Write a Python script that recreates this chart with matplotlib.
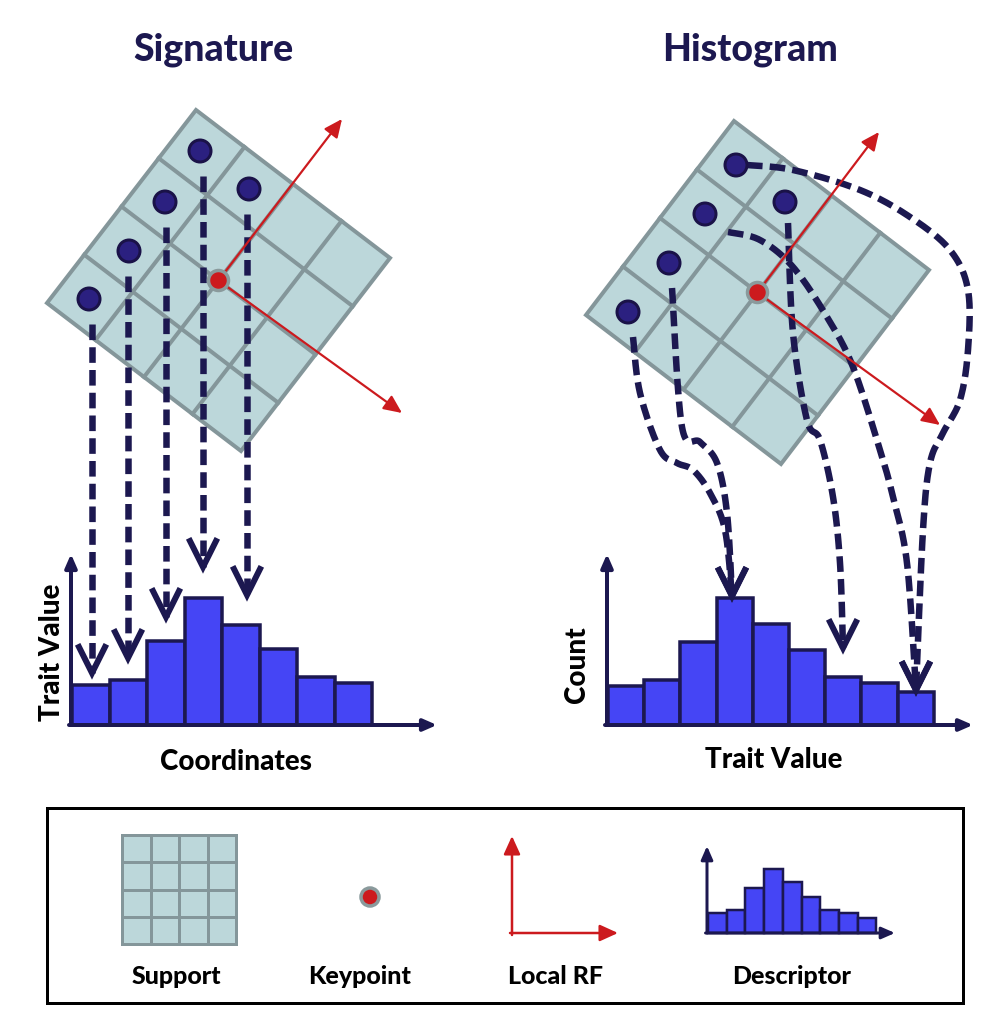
import numpy as np
import matplotlib.pyplot as plt
from matplotlib.patches import Polygon, Rectangle, Circle

# histogram values (top y of each bar in pixel coords, baseline 725)
left_tops = [685, 680, 641, 598, 625, 649, 677, 683]
right_tops = [686, 680, 642, 598, 624, 650, 677, 683, 692]
legend_tops = [913, 910, 888, 869, 882, 897, 910, 913, 918]

# support grids: top corner, edge vectors
left_grid = ((196, 110), (194, 148), (-149, 193))
right_grid = ((734, 121), (195, 149), (-148, 194))
left_dots = [(200, 151), (249, 189), (165, 202), (129, 251), (89, 299)]
right_dots = [(736, 165), (785, 202), (705, 214), (669, 263), (628, 312)]

NAVY = '#1c1850'
DOT = '#2b2080'
RED = '#cc1a1e'
FILL = '#bcd7da'
EDGE = '#84969a'
BAR = '#4545f5'
PX = 0.72  # points per pixel

fig = plt.figure(figsize=(10.05, 10.28), dpi=100)
ax = fig.add_axes([0, 0, 1, 1])
ax.set_xlim(0, 1005)
ax.set_ylim(1028, 0)
ax.axis('off')
plt.rcParams['font.family'] = ['Lato', 'DejaVu Sans']


def grid(g):
    (tx, ty), (ux, uy), (vx, vy) = g
    P = lambda a, b: (tx + a * ux + b * vx, ty + a * uy + b * vy)
    ax.add_patch(Polygon([P(0, 0), P(1, 0), P(1, 1), P(0, 1)], closed=True,
                         fc=FILL, ec=EDGE, lw=4 * PX, zorder=1))
    for k in range(1, 4):
        a = k / 4
        ax.plot(*zip(P(a, 0), P(a, 1)), color=EDGE, lw=4 * PX, zorder=1)
        ax.plot(*zip(P(0, a), P(1, a)), color=EDGE, lw=4 * PX, zorder=1)
    return P(0.5, 0.5)


def catmull(pts, n=20):
    pts = np.array(pts, float)
    pts = np.vstack([pts[0], pts, pts[-1]])
    out = []
    for i in range(1, len(pts) - 2):
        p0, p1, p2, p3 = pts[i - 1], pts[i], pts[i + 1], pts[i + 2]
        for t in np.linspace(0, 1, n, endpoint=False):
            out.append(0.5 * ((2 * p1) + (-p0 + p2) * t + (2 * p0 - 5 * p1 + 4 * p2 - p3) * t ** 2
                              + (-p0 + 3 * p1 - 3 * p2 + p3) * t ** 3))
    out.append(pts[-2])
    return np.array(out)


def dashed(pts):
    c = catmull(pts)
    ax.plot(c[:, 0], c[:, 1], color=NAVY, lw=6.5 * PX, ls=(0, (2.4, 1.1)),
            solid_capstyle='butt', zorder=4)
    tx, ty = pts[-1]
    ax.plot([tx - 13, tx, tx + 13], [ty - 26, ty, ty - 26], color=NAVY,
            lw=6 * PX, solid_joinstyle='miter', zorder=5)


def dot(x, y):
    ax.add_patch(Circle((x, y), 11, fc=DOT, ec='#1a1248', lw=3 * PX, zorder=6))


def keypoint(x, y, r=10):
    ax.add_patch(Circle((x, y), r, fc=RED, ec='#8a9a9c', lw=3.5 * PX, zorder=7))


def red_arrow(x0, y0, x1, y1, lw=2.2):
    ax.annotate('', xy=(x1, y1), xytext=(x0, y0),
                arrowprops=dict(arrowstyle='-|>,head_length=1.1,head_width=0.5',
                                color=RED, lw=lw * PX, shrinkA=0, shrinkB=0), zorder=6)


def histogram(x0, width, tops, base, ax_x, ax_top, ax_right, lw=4, bar_lw=3.5):
    for i, t in enumerate(tops):
        ax.add_patch(Rectangle((x0 + i * width, t), width, base - t, fc=BAR, ec=NAVY,
                               lw=bar_lw * PX, zorder=3))
    ax.annotate('', xy=(ax_x, ax_top), xytext=(ax_x, base),
                arrowprops=dict(arrowstyle='-|>,head_length=0.8,head_width=0.35',
                                color=NAVY, lw=lw * PX, shrinkA=0, shrinkB=0), zorder=4)
    ax.annotate('', xy=(ax_right, base), xytext=(ax_x - lw / 2, base),
                arrowprops=dict(arrowstyle='-|>,head_length=0.8,head_width=0.35',
                                color=NAVY, lw=lw * PX, shrinkA=0, shrinkB=0), zorder=4)


# ---- left: signature
kx, ky = grid(left_grid)
red_arrow(kx, ky, 342, 119)
red_arrow(kx, ky, 402, 413)
keypoint(kx, ky)
for d in left_dots:
    dot(*d)
tips = [(203, 567), (247, 595), (166, 617), (128, 658), (92, 673)]
for (dx, dy), (tx, ty) in zip(left_dots, tips):
    dashed([(tx, dy + 25), (tx, ty)])
histogram(72, 37.5, left_tops, 725, 71, 554, 437)

# ---- right: histogram
kx, ky = grid(right_grid)
red_arrow(kx, ky, 879, 132)
red_arrow(kx, ky, 940, 425)
keypoint(kx, ky)
for d in right_dots:
    dot(*d)
curves = [
    [(633, 337), (640, 393), (660, 450), (677, 463), (693, 470), (710, 493), (725, 530), (732, 596)],
    [(672, 288), (682, 427), (700, 442), (717, 463), (727, 513), (732, 596)],
    [(788, 223), (793, 333), (807, 420), (820, 440), (833, 497), (840, 563), (843, 648)],
    [(728, 232), (760, 240), (793, 267), (827, 317), (853, 367), (880, 450), (893, 497),
     (907, 563), (916, 690)],
    [(747, 165), (793, 170), (860, 190), (910, 217), (950, 250), (968, 290), (968, 350),
     (960, 400), (943, 433), (930, 463), (923, 530), (916, 690)],
]
for c in curves:
    dashed(c)
histogram(608, 36.2, right_tops, 725, 607, 554, 973)

# ---- text
ax.text(213, 50, 'Signature', ha='center', va='center', fontsize=27, fontweight='black', color=NAVY)
ax.text(750, 50, 'Histogram', ha='center', va='center', fontsize=27, fontweight='black', color=NAVY)
ax.text(236, 762, 'Coordinates', ha='center', va='center', fontsize=20, fontweight='black')
ax.text(52, 652, 'Trait Value', ha='center', va='center', fontsize=20, fontweight='black', rotation=90)
ax.text(577, 665, 'Count', ha='center', va='center', fontsize=20, fontweight='black', rotation=90)
ax.text(774, 760, 'Trait Value', ha='center', va='center', fontsize=20, fontweight='black')

# ---- legend box
ax.add_patch(Rectangle((47, 808), 916, 195, fc='white', ec='black', lw=3 * PX, zorder=1))
for i in range(5):
    ax.plot([122 + i * 28.5, 122 + i * 28.5], [835, 944], color=EDGE, lw=3 * PX, zorder=2)
    ax.plot([122, 236], [835 + i * 27.25, 835 + i * 27.25], color=EDGE, lw=3 * PX, zorder=2)
ax.add_patch(Rectangle((122, 835), 114, 109, fc=FILL, ec='none', zorder=1.5))
keypoint(370, 897, r=9)
red_arrow(512, 935, 512, 836, lw=2.5)
red_arrow(510, 933, 618, 933, lw=2.5)
histogram(708, 18.7, legend_tops, 933, 707, 846, 895, lw=3, bar_lw=2.5)
for x, s in [(176, 'Support'), (360, 'Keypoint'), (555, 'Local RF'), (792, 'Descriptor')]:
    ax.text(x, 976, s, ha='center', va='center', fontsize=18, fontweight='black')

fig.savefig('out.png', dpi=100)
